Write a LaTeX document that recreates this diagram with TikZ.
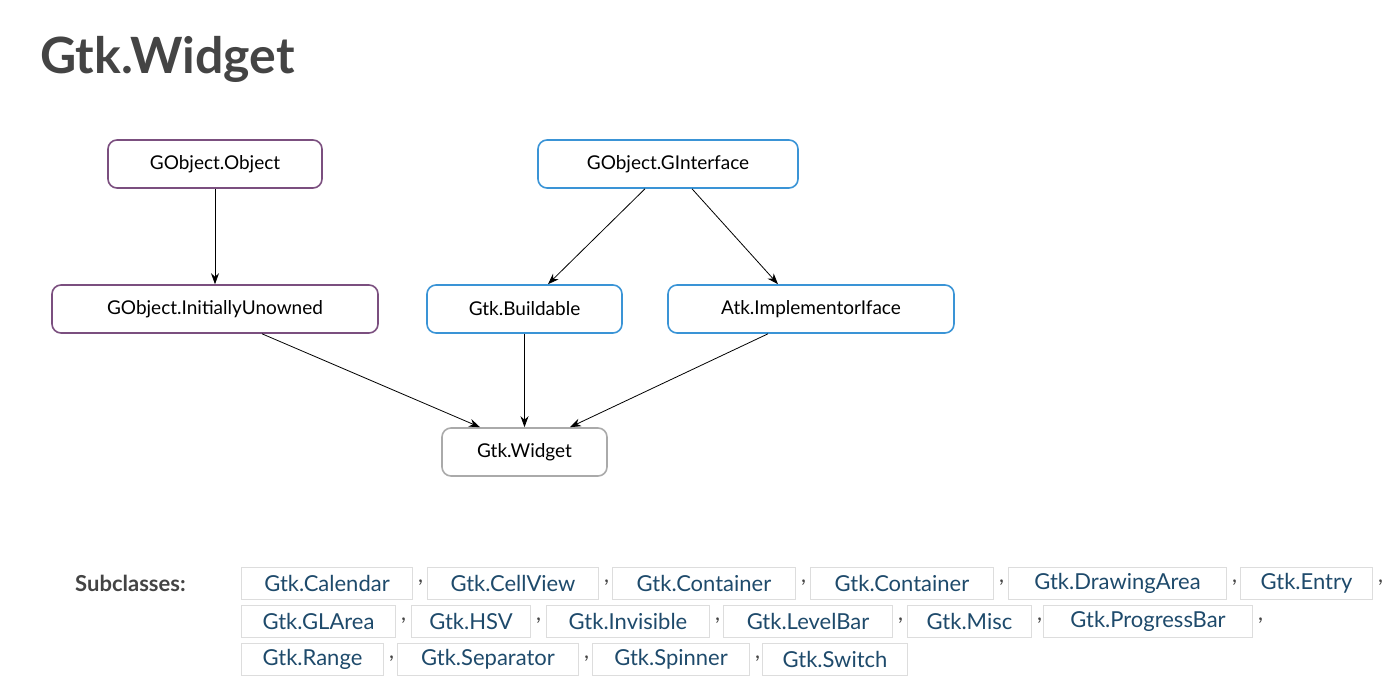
\documentclass[tikz,border=0pt]{standalone}
\usepackage{fontspec}
\setmainfont{Lato}
\usetikzlibrary{arrows.meta}
\definecolor{purp}{HTML}{7B4F7F}
\definecolor{blu}{HTML}{3A94D6}
\definecolor{gry}{HTML}{AAAAAA}
\definecolor{titlec}{HTML}{444444}
\definecolor{linkc}{HTML}{1E4A6B}
\definecolor{boxb}{HTML}{DDDDDD}
\begin{document}
\begin{tikzpicture}[x=1pt,y=-1pt,
  cls/.style={draw,line width=1.6pt,rounded corners=9pt,minimum height=48pt,font=\fontsize{19}{22}\selectfont,inner sep=0pt},
  po/.style={cls,draw=purp},
  bo/.style={cls,draw=blu},
  go/.style={cls,draw=gry},
  arr/.style={-{Stealth[length=11pt,width=8pt]},line width=0.8pt},
  sub/.style={draw=boxb,line width=1pt,anchor=west,minimum height=32pt,inner sep=0pt,text=linkc,font=\fontsize{22}{26}\selectfont},
  commasty/.style={anchor=west,inner sep=0pt,text=titlec,font=\fontsize{22}{26}\selectfont}]
\useasboundingbox (0,0) rectangle (1396,700);
\node[anchor=base west,inner sep=0pt,text=titlec,font=\fontsize{50}{60}\bfseries\selectfont] (title) at (40,74) {Gtk.Widget};
\node[po,minimum width=214pt] (obj) at (215,164) {GObject.Object};
\node[bo,minimum width=260pt] (gi) at (668,164) {GObject.GInterface};
\node[po,minimum width=326pt] (iu) at (215,309) {GObject.InitiallyUnowned};
\node[bo,minimum width=195pt] (bu) at (524.5,309) {Gtk.Buildable};
\node[bo,minimum width=286pt] (atk) at (811,309) {Atk.ImplementorIface};
\node[go,minimum width=165pt] (w) at (524.5,452) {Gtk.Widget};
\draw[arr] (obj) -- (iu);
\draw[arr] ([xshift=-23pt]gi.south) -- ([xshift=23.5pt]bu.north);
\draw[arr] ([xshift=24pt]gi.south) -- ([xshift=-33pt]atk.north);
\draw[arr] ([xshift=47pt]iu.south) -- ([xshift=-44.5pt]w.north);
\draw[arr] (bu) -- (w);
\draw[arr] ([xshift=-43pt]atk.south) -- ([xshift=45.5pt]w.north);
\node[anchor=west,inner sep=0pt,text=titlec,font=\fontsize{22}{26}\bfseries\selectfont] (sl) at (75,583) {Subclasses:};
\foreach \n/\x/\bw/\y/\c [count=\i] in {
 Calendar/241/171/583/1, CellView/427/171/583/1, Container/612/183/583/1, Container/810/183/583/1, DrawingArea/1008/218/583/1, Entry/1240/132/583/1,
 GLArea/241/154/621/1, HSV/411/119/621/1, Invisible/546/163/621/1, LevelBar/723/169/621/1, Misc/907/124/621/1, ProgressBar/1043/209/621/1,
 Range/241/142/659/1, Separator/397/181/659/1, Spinner/592/157/659/1, Switch/762/145/659/0}{
  \node[sub,minimum width=\bw pt] (s\i) at (\x,\y) {Gtk.\n};
  \ifnum\c=1 \node[commasty] (c\i) at ([xshift=5pt]s\i.east) {,};\fi
}
\end{tikzpicture}
\end{document}
